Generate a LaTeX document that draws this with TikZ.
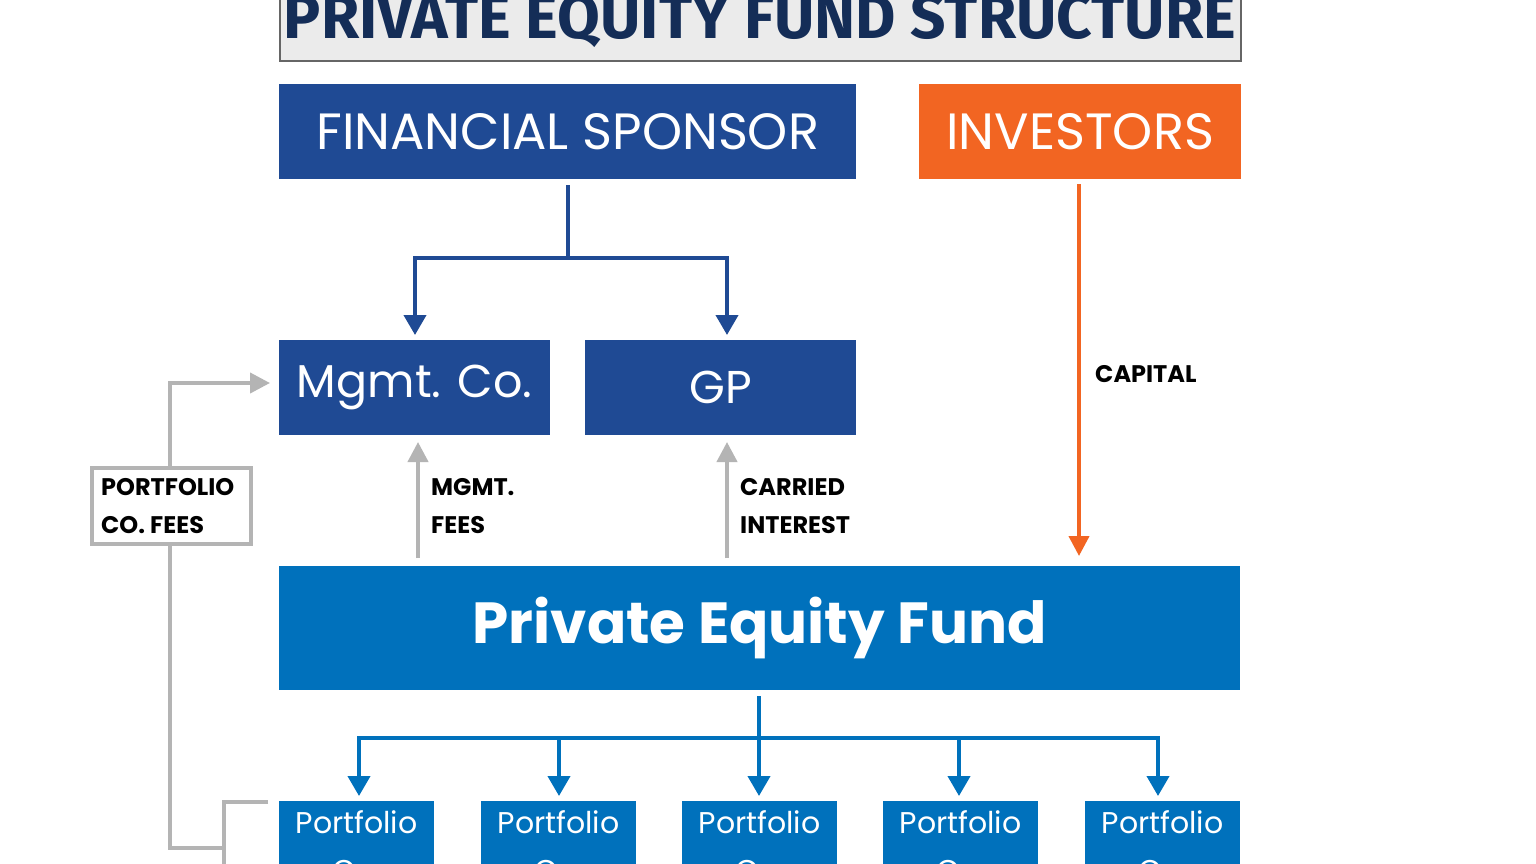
\documentclass[tikz,border=0pt]{standalone}
\usepackage{fontspec}
\setmainfont{Poppins}
\newfontfamily\titlefont{Fira Sans}
\usetikzlibrary{arrows.meta}
\definecolor{dblue}{HTML}{1F4A94}
\definecolor{mblue}{HTML}{0071BC}
\definecolor{orng}{HTML}{F26522}
\definecolor{gry}{HTML}{B4B4B4}
\definecolor{tblue}{HTML}{142D57}
\begin{document}
\begin{tikzpicture}[x=1pt,y=-1pt,
  box/.style={inner sep=0pt,text=white,anchor=north west},
  darr/.style={draw=dblue,line width=4pt,-{Triangle[length=20pt,width=22pt]}},
  barr/.style={draw=mblue,line width=4pt,-{Triangle[length=20pt,width=22pt]}},
  garr/.style={draw=gry,line width=4pt,-{Triangle[length=20pt,width=20pt]}},
  gline/.style={draw=gry,line width=4pt},
  lab/.style={font=\bfseries\fontsize{24}{38}\selectfont,align=left,anchor=west,inner sep=0pt}]
\useasboundingbox (0,0) rectangle (1536,864);
\clip (0,0) rectangle (1536,864);
\fill[white] (0,0) rectangle (1536,864);
% title
\node[draw=gray!80!black,line width=1.5pt,fill={rgb,255:red,235;green,235;blue,235},minimum width=961pt,minimum height=100pt,inner sep=0pt,anchor=south west] (title) at (279,62) {};
\node[text=tblue,font=\titlefont\bfseries\fontsize{62}{62}\selectfont] (tt) at (760,21) {\scalebox{1.0}[1]{PRIVATE EQUITY FUND STRUCTURE}};
% boxes
\node[box,fill=dblue,minimum width=577pt,minimum height=95pt] (fs) at (279,84) {};
\node[text=white,font=\fontsize{51}{51}\selectfont] at (fs.center) {FINANCIAL SPONSOR};
\node[box,fill=orng,minimum width=322pt,minimum height=95pt] (inv) at (919,84) {};
\node[text=white,font=\fontsize{51}{51}\selectfont] at (inv.center) {INVESTORS};
\node[box,fill=dblue,minimum width=271pt,minimum height=95pt] (mc) at (279,340) {};
\node[text=white,font=\fontsize{46}{46}\selectfont] at (mc.center) {Mgmt. Co.};
\node[box,fill=dblue,minimum width=271pt,minimum height=95pt] (gp) at (585,340) {};
\node[text=white,font=\fontsize{46}{46}\selectfont] at (gp.center) {GP};
\node[box,fill=mblue,minimum width=961pt,minimum height=124pt] (pe) at (279,566) {};
\node[text=white,font=\bfseries\fontsize{58}{58}\selectfont] at (pe.center) {Private Equity Fund};
\foreach \i/\x in {1/279,2/481,3/682,4/883,5/1085}{
  \node[box,fill=mblue,minimum width=155pt,minimum height=120pt] (p\i) at (\x,801) {};
  \node[text=white,font=\fontsize{30}{48}\selectfont,align=center,anchor=north] at ([yshift=-6pt]p\i.north) {Portfolio\\Co.};
}
% connectors
\coordinate (fsj) at (568,258);
\draw[dblue,line width=4pt] ([yshift=-6pt]fs.south -| fsj) -- (fsj);
\draw[darr] (fsj) -| (415,335);
\draw[darr] (fsj) -| (727,335);
\draw[draw=orng,line width=4pt,-{Triangle[length=20pt,width=20pt]}] (1079,184) -- (1079,556);
\node[lab] (cap) at (1095,374) {CAPITAL};
\draw[garr] (418,558) -- (418,442);
\draw[garr] (727,558) -- (727,442);
\node[lab] (mf) at (431,506) {MGMT.\\FEES};
\node[lab] (ci) at (740,506) {CARRIED\\INTEREST};
\coordinate (pej) at (759,738);
\draw[mblue,line width=4pt] (759,696) -- (pej);
\foreach \x in {359,559,759,959,1158}{\draw[barr] (pej) -| (\x,796);}
% portfolio fees
\node[draw=gry,line width=4pt,minimum width=159pt,minimum height=76pt,anchor=north west,inner sep=0pt] (pf) at (90,466) {};
\node[lab] at (101,506) {PORTFOLIO\\CO. FEES};
\draw[garr] (pf.north -| 170,0) |- (270,383);
\coordinate (bj) at (224,848);
\draw[gline] (pf.south -| 170,0) |- (bj);
\draw[gline] (268,802) -| (224,870);
\end{tikzpicture}
\end{document}
